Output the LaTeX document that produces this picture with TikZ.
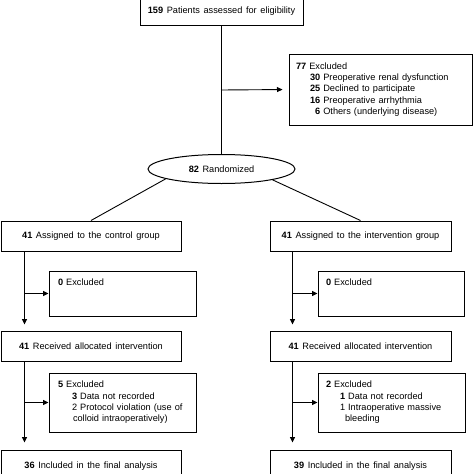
\documentclass[tikz,border=0pt]{standalone}
\usepackage{fontspec}
\setmainfont{Liberation Sans}
\usetikzlibrary{arrows.meta,shapes.geometric}
\newcommand\chartfont{\fontsize{9.2}{11.3}\selectfont\spaceskip 3.6pt plus 1pt minus 0.5pt\relax}
\begin{document}
\begin{tikzpicture}[x=1pt,y=-1pt,
  box/.style={draw, line width=1pt, inner sep=0pt, font=\chartfont},
  exbox/.style={box, align=left},
  conn/.style={line width=0.9pt},
  arr/.style={conn, -{Triangle[length=5.5pt,width=5pt]}},
]
\useasboundingbox (0,0) rectangle (474,474);
% top
\node[box, minimum width=163pt, minimum height=28pt] (top) at (221.5,11) {\textbf{159} Patients assessed for eligibility};
\node[exbox, text width=169pt, inner xsep=7pt, minimum height=71pt] (ex1) at (380.5,89.5)
  {\textbf{77} Excluded\\
   \hspace*{14pt}\textbf{30} Preoperative renal dysfunction\\
   \hspace*{14pt}\textbf{25} Declined to participate\\
   \hspace*{14pt}\textbf{16} Preoperative arrhythmia\\
   \hspace*{14pt}\phantom{\textbf{0}}\textbf{6} Others (underlying disease)};
\node[box, ellipse, minimum width=147pt, minimum height=29pt] (rand) at (221.5,169) {\textbf{82} Randomized};
% groups
\node[box, minimum width=180pt, minimum height=30pt] (ctrl) at (91,236) {\textbf{41} Assigned to the control group};
\node[box, minimum width=181pt, minimum height=30pt] (intv) at (360.5,236) {\textbf{41} Assigned to the intervention group};
\node[exbox, text width=129pt, inner xsep=9pt, minimum height=45pt] (ex0L) at (122.5,293.5)
  {\textbf{0} Excluded\\ \mbox{}\\ \mbox{}};
\node[exbox, text width=130pt, inner xsep=8pt, minimum height=45pt] (ex0R) at (391,293.5)
  {\textbf{0} Excluded\\ \mbox{}\\ \mbox{}};
\node[box, minimum width=180pt, minimum height=30pt] (recL) at (91,346) {\textbf{41} Received allocated intervention};
\node[box, minimum width=181pt, minimum height=30pt] (recR) at (360.5,346) {\textbf{41} Received allocated intervention};
\node[exbox, text width=129pt, inner xsep=9pt, minimum height=59pt] (ex5) at (122.5,402.5)
  {\textbf{5} Excluded\\
   \hspace*{14pt}\textbf{3} Data not recorded\\
   \hspace*{14pt}2 Protocol violation (use of\\
   \hspace*{15pt}colloid intraoperatively)};
\node[exbox, text width=131pt, inner xsep=8pt, minimum height=59pt] (ex2) at (391.5,402.5)
  {\textbf{2} Excluded\\
   \hspace*{14pt}\textbf{1} Data not recorded\\
   \hspace*{14pt}1 Intraoperative massive\\
   \hspace*{19pt}bleeding};
\node[box, minimum width=180pt, minimum height=32pt] (finL) at (91,466) {\textbf{36} Included in the final analysis};
\node[box, minimum width=181pt, minimum height=32pt] (finR) at (360.5,466) {\textbf{39} Included in the final analysis};
% connectors
\draw[conn] (top.south) -- (rand.north);
\coordinate (b1) at (221,90);
\draw[arr, shorten >=6pt] (b1) -- (ex1.west);
\draw[conn] (rand.190.6) -- (ctrl.north);
\draw[conn] (rand.348) -- (intv.north);
% left column
\draw[arr, shorten >=6pt] ([xshift=24pt]ctrl.south west) -- ([xshift=24pt]recL.north west);
\coordinate (bL1) at (25,293.5);
\draw[arr] (bL1) -- (ex0L.west);
\draw[arr, shorten >=7pt] ([xshift=24pt]recL.south west) -- ([xshift=24pt]finL.north west);
\coordinate (bL2) at (25,402.5);
\draw[arr] (bL2) -- (ex5.west);
% right column
\draw[arr, shorten >=6pt] ([xshift=23pt]intv.south west) -- ([xshift=23pt]recR.north west);
\coordinate (bR1) at (293,293.5);
\draw[arr] (bR1) -- (ex0R.west);
\draw[arr, shorten >=7pt] ([xshift=23pt]recR.south west) -- ([xshift=23pt]finR.north west);
\coordinate (bR2) at (293,402.5);
\draw[arr] (bR2) -- (ex2.west);
\end{tikzpicture}
\end{document}
